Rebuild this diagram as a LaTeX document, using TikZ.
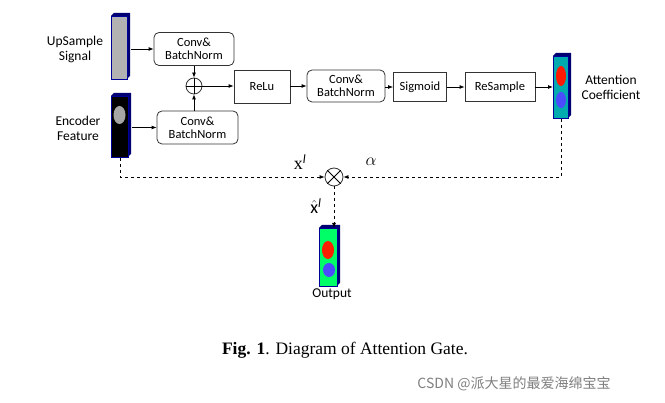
\documentclass[tikz,border=0pt]{standalone}
\usepackage{fontspec}
\setmainfont{Carlito}
\newfontfamily\serif{Liberation Serif}
\newfontfamily\cjk{Noto Sans CJK SC}
\usetikzlibrary{arrows.meta}
\begin{document}
\begin{tikzpicture}[x=1pt,y=-1pt,
 box/.style={draw=black!80,line width=0.8pt,minimum height=29pt,align=center,font=\fontsize{12.5}{13}\selectfont,inner sep=1pt},
 rbox/.style={box,rounded corners=5pt},
 arr/.style={-{Latex[length=5pt,width=4pt]},line width=0.8pt},
 darr/.style={arr,dashed},
 lbl/.style={font=\fontsize{13.5}{15}\selectfont,align=center}]
\useasboundingbox (0,0) rectangle (665,403);
\fill[white] (0,0) rectangle (665,403);
\newcommand\myslab[5]{% name, x, y(top), w, h
 \fill[blue!45!black] (#2+3,#3-3) -- (#2+#4+3,#3-3) -- (#2+#4+3,#3+#5-3) -- (#2+#4,#3+#5) -- (#2,#3) -- cycle;
 \node[draw=blue!60!black,line width=1.2pt,minimum width=#4,minimum height=#5,inner sep=0,anchor=north west] (#1) at (#2,#3) {};}
\myslab{up}{111}{16}{16}{63}
\fill[gray!60] ([shift={(1,-1)}]up.south west) rectangle ([shift={(-1,1)}]up.north east);
\myslab{enc}{111}{96}{17}{61}
\fill[black] ([shift={(1,-1)}]enc.south west) rectangle ([shift={(-1,1)}]enc.north east);
\fill[gray!70] (119.5,115) ellipse (6 and 9);
\myslab{att}{553}{56}{15}{62}
\fill[cyan!60!green] ([shift={(1,-1)}]att.south west) rectangle ([shift={(-1,1)}]att.north east);
\fill[red!80!orange] (561,76) ellipse (5 and 10);
\fill[blue!70] (561,100) ellipse (5 and 8);
\myslab{out}{319}{228}{18}{58}
\fill[green!60!cyan] ([shift={(1,-1)}]out.south west) rectangle ([shift={(-1,1)}]out.north east);
\fill[red!75!orange] (328,250) ellipse (6 and 9);
\fill[blue!70] (329,270) ellipse (6 and 7);
\node[lbl] (tup) at (75,49) {UpSample\\Signal};
\node[lbl] (tenc) at (78,128) {Encoder\\Feature};
\node[lbl] (tatt) at (611,87) {Attention\\Coefficient};
\node[lbl] (tout) at (332,294) {Output};
\node[rbox,minimum width=80pt,minimum height=33pt] (c1) at (194,49) {Conv\&\\BatchNorm};
\node[rbox,minimum width=81pt,minimum height=33pt] (c2) at (197.5,127.5) {Conv\&\\BatchNorm};
\node[draw=black!80,line width=0.8pt,circle,minimum size=16pt,inner sep=0] (p) at (194,86) {};
\draw[line width=0.8pt] (p.north)--(p.south) (p.west)--(p.east);
\node[box,minimum width=56pt,minimum height=33pt] (relu) at (262,86.5) {ReLu};
\node[rbox,minimum width=78pt,minimum height=32pt] (c3) at (346,86) {Conv\&\\BatchNorm};
\node[box,minimum width=53pt] (sig) at (420,87) {Sigmoid};
\node[box,minimum width=70pt] (rs) at (500,87) {ReSample};
\node[draw=black!80,line width=0.8pt,circle,minimum size=18pt,inner sep=0] (m) at (334,177) {};
\draw[line width=0.8pt] (m.north west)--(m.south east) (m.north east)--(m.south west);
\draw[arr] ([xshift=3pt]up.east|-c1) -- (c1);
\draw[arr] ([xshift=3pt]enc.east|-c2) -- (c2);
\draw[arr] (c1.south-|p) -- (p);
\draw[arr] (c2.north-|p) -- (p);
\draw[arr] (p) -- (relu.west|-p);
\draw[arr] (relu.east|-c3) -- (c3);
\draw[arr] (c3.east|-sig) -- (sig);
\draw[arr] (sig) -- (rs);
\draw[arr] (rs) -- (att.west|-rs);
\draw[darr] (enc.south) |- (m);
\draw[darr] (att.south) |- (m);
\draw[darr] (m) -- (out.north-|m);
\node[font=\serif\fontsize{18}{18}\selectfont] (xl) at (300,162) {x$^{\mathit{l}}$};
\node[font=\fontsize{18}{18}\selectfont] (al) at (371,162) {$\alpha$};
\node[font=\serif\fontsize{18}{18}\selectfont] (xh) at (316,206) {$\hat{\mathrm{x}}^{\mathit{l}}$};
\node[font=\serif\fontsize{17.5}{18}\selectfont] (cap) at (345,350) {\textbf{Fig. 1}. Diagram of Attention Gate.};
\node[font=\cjk\fontsize{14}{14}\selectfont,text=gray] (wm) at (514,384) {CSDN @派大星的最爱海绵宝宝};
\end{tikzpicture}
\end{document}
